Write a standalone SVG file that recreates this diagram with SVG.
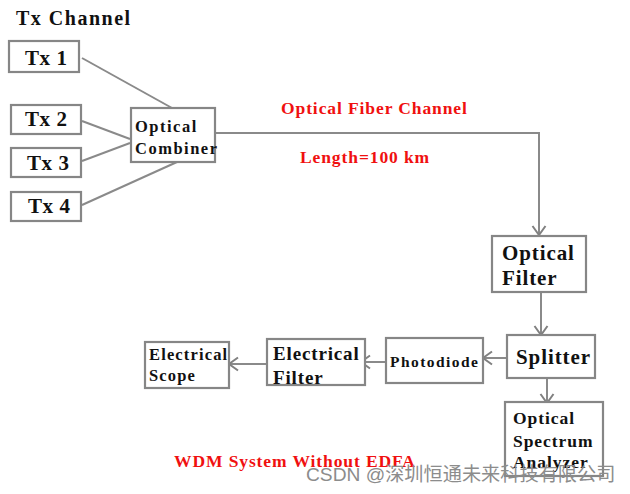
<svg xmlns="http://www.w3.org/2000/svg" width="630" height="494" viewBox="0 0 630 494">
<style>
.b{fill:#fff;stroke:#868686;stroke-width:2.2}
.t{font-family:"Liberation Serif",serif;font-weight:bold;fill:#111}
.r{font-family:"Liberation Serif",serif;font-weight:bold;fill:#f01010;font-size:17.5px;letter-spacing:.9px}
.c{fill:none;stroke:#8a8a8a;stroke-width:2}
.w{font-family:"Liberation Sans","Noto Sans CJK SC",sans-serif;font-size:19.2px;fill:#8c8c8c}
</style>
<defs>
<marker id="a" markerUnits="userSpaceOnUse" markerWidth="14" markerHeight="16" refX="12" refY="8" orient="auto"><path d="M3 1.5L12 8L3 14.5" fill="none" stroke="#808080" stroke-width="2"/></marker>
</defs>
<rect width="630" height="494" fill="#fff"/>
<text class="t" x="16" y="25" font-size="20" letter-spacing="1.5">Tx Channel</text>
<g id="connectors">
<path class="c" d="M82 58L172 108"/>
<path class="c" d="M82 121L130 139"/>
<path class="c" d="M82 161L130 143"/>
<path class="c" d="M82 205L177 162"/>
<path class="c" marker-end="url(#a)" d="M216 133H539V235"/>
<path class="c" marker-end="url(#a)" d="M541 292V335"/>
<path class="c" marker-end="url(#a)" d="M508 358H483"/>
<path class="c" marker-end="url(#a)" d="M547 378V403"/>
<path class="c" marker-end="url(#a)" d="M386 362H361"/>
<path class="c" marker-end="url(#a)" d="M267 364H229"/>
</g>
<g id="tx1"><rect class="b" x="9" y="41" width="70" height="31"/><text class="t" x="25" y="65" font-size="21" letter-spacing=".6">Tx 1</text></g>
<g id="tx2"><rect class="b" x="11" y="105" width="70" height="29"/><text class="t" x="25" y="126" font-size="21" letter-spacing=".6">Tx 2</text></g>
<g id="tx3"><rect class="b" x="11" y="148" width="70" height="29"/><text class="t" x="27" y="170" font-size="21" letter-spacing=".6">Tx 3</text></g>
<g id="tx4"><rect class="b" x="11" y="192" width="70" height="29"/><text class="t" x="28" y="213" font-size="21" letter-spacing=".6">Tx 4</text></g>
<g id="combiner"><rect class="b" x="131" y="108" width="84" height="54"/><text class="t" x="135" y="132" font-size="16.5" letter-spacing="1.5">Optical</text><text class="t" x="135" y="154" font-size="16.5" letter-spacing="1.5">Combiner</text></g>
<g id="filter"><rect class="b" x="492" y="236" width="94" height="56"/><text class="t" x="502" y="260" font-size="21" letter-spacing=".9">Optical</text><text class="t" x="502" y="285" font-size="21" letter-spacing=".9">Filter</text></g>
<g id="splitter"><rect class="b" x="507" y="335" width="88" height="43"/><text class="t" x="516" y="364" font-size="21" letter-spacing=".9">Splitter</text></g>
<g id="photodiode"><rect class="b" x="386" y="338" width="97" height="45"/><text class="t" x="390" y="367" font-size="15.5" letter-spacing="1.45">Photodiode</text></g>
<g id="efilter"><rect class="b" x="267" y="339" width="98" height="46"/><text class="t" x="273" y="360" font-size="19" letter-spacing=".85">Electrical</text><text class="t" x="273" y="384" font-size="19" letter-spacing=".85">Filter</text></g>
<g id="scope"><rect class="b" x="145" y="342" width="84" height="46"/><text class="t" x="149" y="360" font-size="16.5" letter-spacing="1.15">Electrical</text><text class="t" x="149" y="381" font-size="16.5" letter-spacing="1.15">Scope</text></g>
<g id="osa"><rect class="b" x="505" y="402" width="98" height="74"/><text class="t" x="513" y="424" font-size="17.5" letter-spacing=".95">Optical</text><text class="t" x="513" y="447" font-size="17.5" letter-spacing=".95">Spectrum</text><text class="t" x="513" y="468" font-size="17.5" letter-spacing=".95">Analyzer</text></g>
<text class="r" x="281" y="114">Optical Fiber Channel</text>
<text class="r" x="300" y="163">Length=100 km</text>
<text class="r" x="174" y="467">WDM System Without EDFA</text>
<text class="w" x="306" y="481">CSDN @深圳恒通未来科技有限公司</text>
</svg>
